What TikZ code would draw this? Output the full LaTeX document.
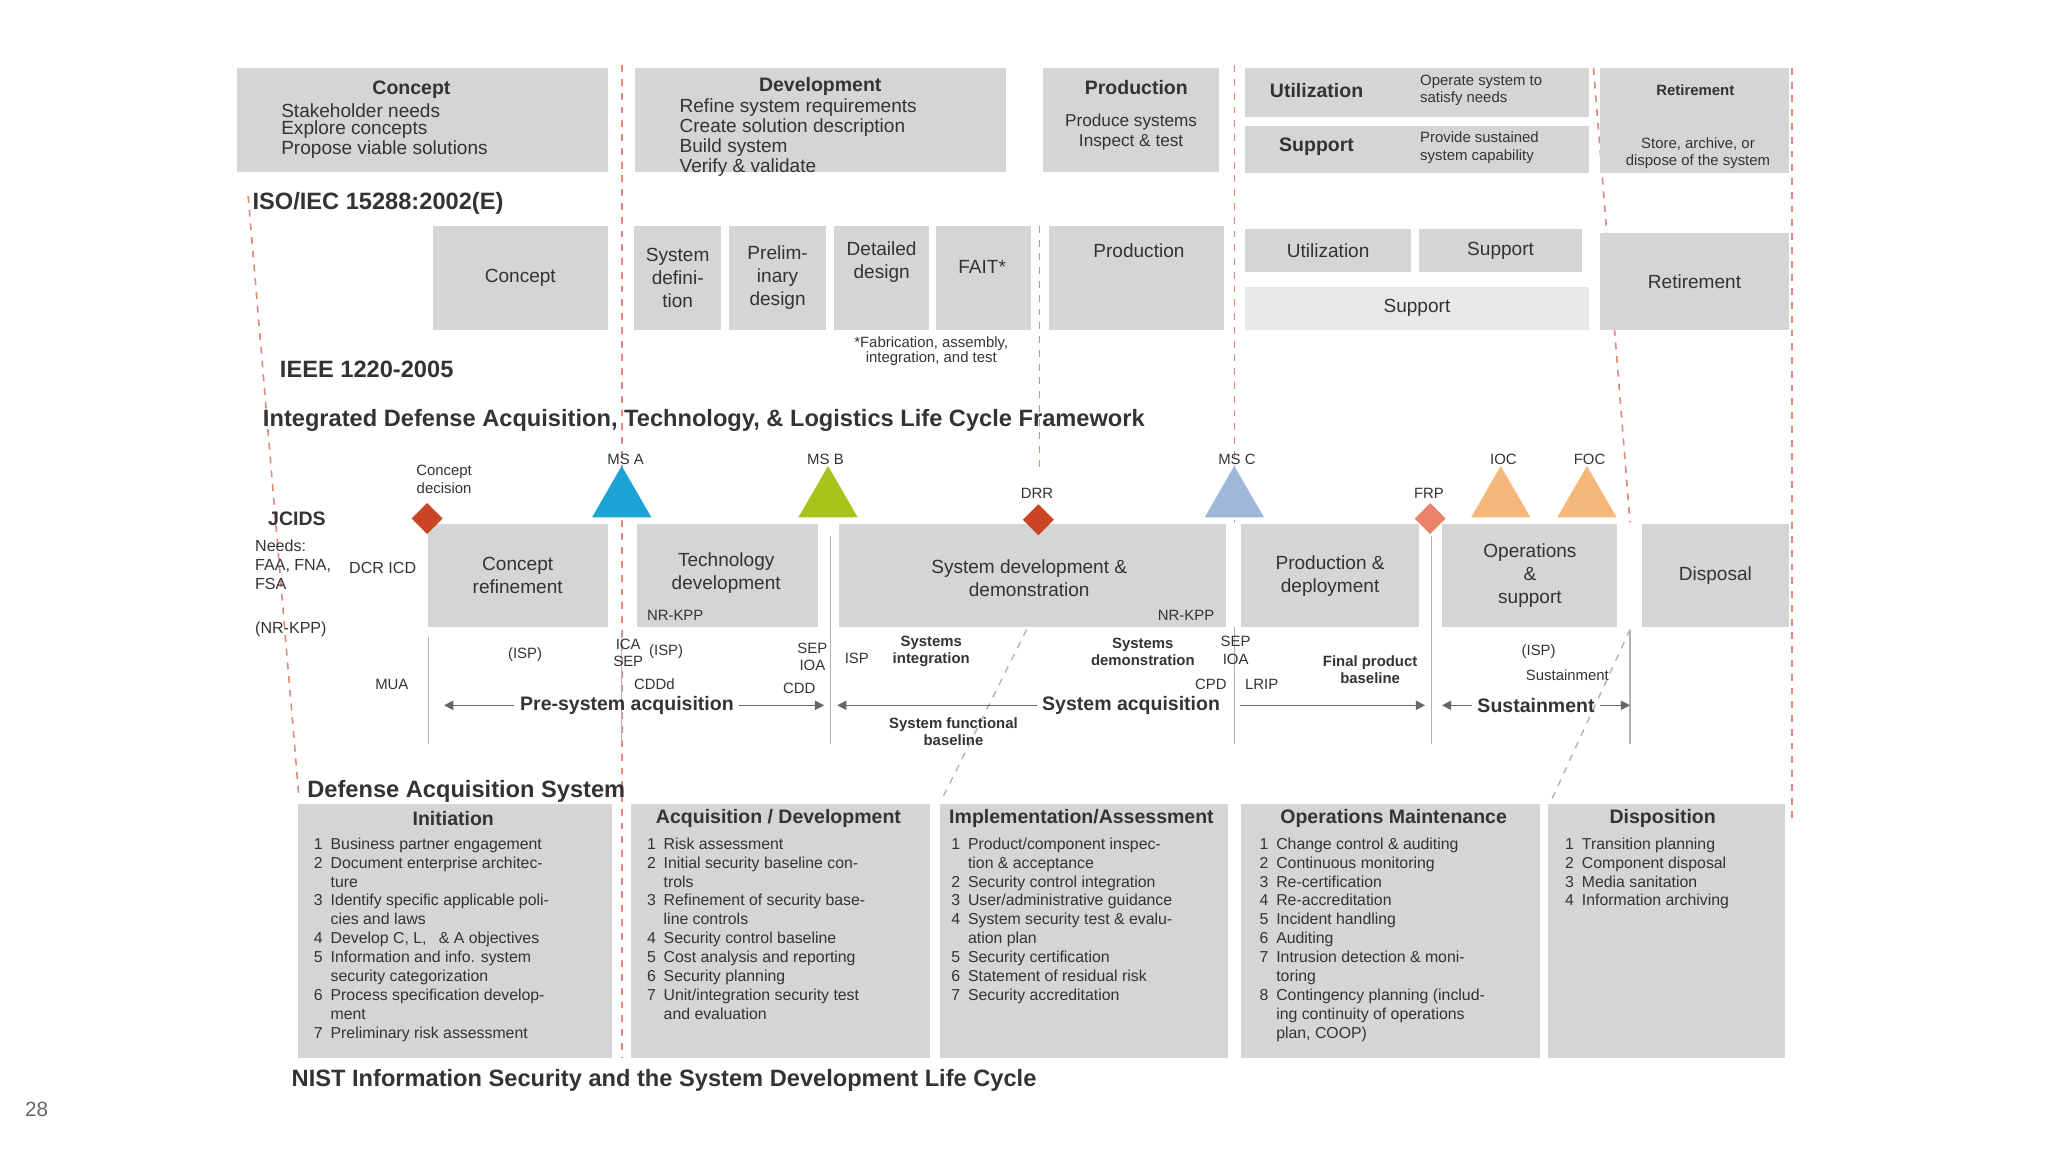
\documentclass[tikz,border=0pt]{standalone}
\usepackage{fontspec}
\setmainfont{Liberation Sans}
\usetikzlibrary{shapes.geometric,arrows.meta}
\definecolor{gb}{HTML}{D5D5D5}
\definecolor{gl}{HTML}{E8E8E8}
\definecolor{tx}{HTML}{333333}
\definecolor{rd}{HTML}{E0897A}
\definecolor{dred}{HTML}{CC4426}
\newcommand\gbox[6][gb]{\node[fill=#1,draw=none,anchor=north west,inner sep=0pt,minimum width={(#5-#3)*0.02cm},minimum height={(#6-#4)*0.02cm}] (#2) at (#3,#4) {};}
\tikzset{
 t/.style={text=tx,font=\fontsize{7.5}{8}\selectfont,inner sep=0pt,align=center},
 tb/.style={t,font=\fontsize{8.5}{10.5}\selectfont\bfseries},
 hd/.style={text=tx,font=\fontsize{10.3}{11}\selectfont\bfseries,inner sep=0pt,anchor=west},
 sm/.style={t,font=\fontsize{6.5}{7.5}\selectfont},
 sb/.style={t,font=\fontsize{6.5}{7.5}\selectfont\bfseries},
 lst/.style={text=tx,font=\fontsize{6.9}{8.25}\selectfont,inner sep=0pt,anchor=north west,align=left},
 rl/.style={draw=rd,dashed,line width=0.7pt},
 gl/.style={draw=gray!60,line width=0.6pt},
 gd/.style={draw=gray!60,dashed,line width=0.6pt},
 ar/.style={draw=gray!80!black,line width=0.7pt,-{Triangle[length=4pt,width=4pt]}},
 tri/.style={regular polygon,regular polygon sides=3,minimum size=1.05cm,inner sep=0pt,draw=none},
 dia/.style={diamond,minimum size=0.48cm,inner sep=0pt,draw=none},
}
\begin{document}
\begin{tikzpicture}[x=0.02cm,y=-0.02cm]
\useasboundingbox (0,0) rectangle (1568,882);
% dashed lines behind
\coordinate (r1a) at (476,50); \coordinate (r1b) at (476,810);
\draw[rl] (r1a) -- (r1b);
\coordinate (r2a) at (796,173); \coordinate (r2b) at (796,360);
\draw[rl] (r2a) -- (r2b);
\coordinate (r3a) at (945,50); \coordinate (r3b) at (945,400);
\draw[rl] (r3a) -- (r3b);
\coordinate (r4a) at (1220,52); \coordinate (r4b) at (1248,400);
\draw[rl] (r4a) -- (r4b);
\coordinate (r5a) at (1372,52); \coordinate (r5b) at (1372,630);
\draw[rl] (r5a) -- (r5b);
\coordinate (r6a) at (190,150); \coordinate (r6b) at (229,612);
\draw[rl] (r6a) -- (r6b);
\coordinate (g1a) at (786,482); \coordinate (g1b) at (721,612);
\draw[gd] (g1a) -- (g1b);
\coordinate (g2a) at (1248,482); \coordinate (g2b) at (1188,612);
\draw[gd] (g2a) -- (g2b);
\foreach \x/\ya/\yb in {328/488/570,636/410/570,945/480/570,1096/410/570,1248/482/570,476/482/570}{
 \draw[gl] (\x,\ya) -- (\x,\yb);}
% top row
\gbox{a1}{181}{52}{465}{131}
\gbox{a2}{486}{52}{770}{131}
\gbox{a3}{798}{52}{933}{131}
\gbox{a4}{953}{52}{1216}{89}
\gbox{a5}{953}{96}{1216}{132}
\gbox{a6}{1225}{52}{1369}{132}
\node[tb] (a1t) at (315,69) {Concept};
\node[t,anchor=north west,align=left,font=\fontsize{8.3}{7.6}\selectfont] (a1l) at (215,79) {Stakeholder needs\\Explore concepts\\Propose viable solutions};
\node[tb] (a2t) at (628,66) {Development};
\node[t,anchor=north west,align=left,font=\fontsize{8.3}{6.4}\selectfont] (a2l) at (520,75) {Refine system requirements\\Create solution description\\Build system\\Verify \& validate};
\node[tb] (a3t) at (870,67) {Production};
\node[t,font=\fontsize{7.5}{9}\selectfont] (a3l) at (866,101) {Produce systems\\Inspect \& test};
\node[tb] (a4t) at (1008,69) {Utilization};
\node[sm,anchor=west,align=left] (a4l) at (1087,69) {Operate system to\\satisfy needs};
\node[tb] (a5t) at (1008,112) {Support};
\node[sm,anchor=west,align=left] (a5l) at (1087,113) {Provide sustained\\system capability};
\node[sb] (a6t) at (1298,69) {Retirement};
\node[sm] (a6l) at (1300,117) {Store, archive, or\\dispose of the system};
\node[hd] (iso) at (193,156) {ISO/IEC 15288:2002(E)};
% second row
\gbox{b1}{331}{173}{465}{252}
\gbox{b2}{485}{173}{552}{252}
\gbox{b3}{558}{173}{632}{252}
\gbox{b4}{638}{173}{711}{252}
\gbox{b5}{716}{173}{789}{252}
\gbox{b6}{803}{173}{937}{252}
\gbox{b7}{953}{175}{1080}{208}
\gbox{b8}{1086}{175}{1211}{208}
\gbox[gl]{b9}{953}{219}{1216}{252}
\gbox{b10}{1225}{178}{1369}{252}
\node[t,font=\fontsize{8.3}{10}\selectfont] at (b1) {Concept};
\node[t,font=\fontsize{8.3}{10}\selectfont] at (b2) {System\\defini-\\tion};
\node[t,font=\fontsize{8.3}{10}\selectfont] at (b3) {Prelim-\\inary\\design};
\node[t,font=\fontsize{8.3}{10}\selectfont] at (675,201) {Detailed\\design};
\node[t,font=\fontsize{8.3}{10}\selectfont] at (752,204) {FAIT*};
\node[t,font=\fontsize{8.3}{10}\selectfont] at (872,192) {Production};
\node[t,font=\fontsize{8.3}{10}\selectfont] at (b7) {Utilization};
\node[t,font=\fontsize{8.3}{10}\selectfont] at (b8) {Support};
\node[t,font=\fontsize{8.3}{10}\selectfont] at (b9) {Support};
\node[t,font=\fontsize{8.3}{10}\selectfont] at (b10) {Retirement};
\node[sm,font=\fontsize{6.5}{6.6}\selectfont] (fn) at (713,269) {*Fabrication, assembly,\\integration, and test};
\node[hd] (ieee) at (214,283) {IEEE 1220-2005};
\node[hd] (idat) at (201,322) {Integrated Defense Acquisition, Technology, \& Logistics Life Cycle Framework};
% JCIDS boxes
\gbox{c1}{327}{401}{465}{480}
\gbox{c2}{487}{401}{626}{480}
\gbox{c3}{642}{401}{938}{480}
\gbox{c4}{950}{401}{1086}{480}
\gbox{c5}{1104}{401}{1238}{480}
\gbox{c6}{1257}{401}{1369}{480}
% milestones
\node[dia,fill=dred] (cd) at (327,397) {};
\node[sm] at (340,367) {Concept\\decision};
\node[tri,fill={rgb,255:red,27;green,163;blue,214}] (msa) at (476,383) {};
\node[sm] at (479,352) {MS A};
\node[tri,fill={rgb,255:red,168;green,196;blue,28}] (msb) at (634,383) {};
\node[sm] at (632,352) {MS B};
\node[dia,fill=dred] (drr) at (795,398) {};
\node[sm] at (794,378) {DRR};
\node[tri,fill={rgb,255:red,157;green,184;blue,216}] (msc) at (945,383) {};
\node[sm] at (947,352) {MS C};
\node[dia,fill={rgb,255:red,232;green,131;blue,106}] (frp) at (1095,397) {};
\node[sm] at (1094,378) {FRP};
\node[tri,fill={rgb,255:red,245;green,184;blue,122}] (ioc) at (1149,383) {};
\node[sm] at (1151,352) {IOC};
\node[tri,fill={rgb,255:red,245;green,184;blue,122}] (foc) at (1215,383) {};
\node[sm] at (1217,352) {FOC};
\node[tb,anchor=west] (jc) at (205,397) {JCIDS};
\node[t,anchor=north west,align=left,font=\fontsize{7}{8.2}\selectfont] (needs) at (195,413) {Needs:\\FAA, FNA,\\FSA};
\node[t,font=\fontsize{7}{8}\selectfont] at (293,435) {DCR ICD};
\node[t,anchor=west,font=\fontsize{7}{8}\selectfont] at (195,482) {(NR-KPP)};
\node[t,font=\fontsize{8.3}{10}\selectfont] at (c1) {Concept\\refinement};
\node[t,font=\fontsize{8.3}{10}\selectfont] at (556,439) {Technology\\development};
\node[sm,anchor=west] at (495,471) {NR-KPP};
\node[t,font=\fontsize{8.3}{10}\selectfont] at (788,443) {System development \&\\demonstration};
\node[sm,anchor=east] at (930,471) {NR-KPP};
\node[t,font=\fontsize{8.3}{10}\selectfont] at (c4) {Production \&\\deployment};
\node[t,font=\fontsize{8.3}{10}\selectfont] at (c5) {Operations\\\&\\support};
\node[t,font=\fontsize{8.3}{10}\selectfont] at (c6) {Disposal};
% small labels
\node[sm] at (402,501) {(ISP)};
\node[sm] at (300,524) {MUA};
\node[sm] at (481,500) {ICA\\SEP};
\node[sm] at (510,499) {(ISP)};
\node[sm] at (501,524) {CDDd};
\node[sm] at (622,503) {SEP\\IOA};
\node[sm] at (612,527) {CDD};
\node[sm] at (656,504) {ISP};
\node[sb] at (713,499) {Systems\\integration};
\node[sb] at (875,499) {Systems\\demonstration};
\node[sm] at (946,498) {SEP\\IOA};
\node[sm] at (927,524) {CPD};
\node[sm] at (966,524) {LRIP};
\node[sb] at (1049,513) {Final product\\baseline};
\node[sm] at (1178,499) {(ISP)};
\node[sm] at (1200,517) {Sustainment};
\node[sb] at (730,560) {System functional\\baseline};
% phase arrows
\node[tb] (pre) at (480,540) {Pre-system acquisition};
\coordinate (pl) at (340,540); \coordinate (pr) at (631,540);
\draw[ar] (pre.west) ++(-4,0) -- (pl);
\draw[ar] (pre.east) ++(4,0) -- (pr);
\node[tb] (sa) at (866,540) {System acquisition};
\coordinate (sl) at (641,540); \coordinate (sr) at (1091,540);
\draw[ar] (sa.west) ++(-4,0) -- (sl);
\draw[ar] (sa.east) ++(15,0) -- (sr);
\node[tb] (su) at (1176,540) {Sustainment};
\coordinate (ul) at (1104,540); \coordinate (ur) at (1248,540);
\draw[ar] (su.west) ++(-4,0) -- (ul);
\draw[ar] (su.east) ++(4,0) -- (ur);
% defense acquisition / NIST
\node[hd] (das) at (235,606) {Defense Acquisition System};
\gbox{d1}{228}{615}{468}{810}
\gbox{d2}{483}{615}{712}{810}
\gbox{d3}{719}{615}{940}{810}
\gbox{d4}{950}{615}{1179}{810}
\gbox{d5}{1185}{615}{1366}{810}
\node[tb] at (347,627) {Initiation};
\node[tb] at (596,627) {Acquisition / Development};
\node[tb] at (828,627) {Implementation/Assessment};
\node[tb] at (1067,627) {Operations Maintenance};
\node[tb] at (1273,627) {Disposition};
\node[lst] at (240,641) {1\enspace Business partner engagement\\2\enspace Document enterprise architec-\\\phantom{2\enspace }ture\\3\enspace Identify specific applicable poli-\\\phantom{3\enspace }cies and laws\\4\enspace Develop C, L, \enspace\& A objectives\\5\enspace Information and info. system\\\phantom{5\enspace }security categorization\\6\enspace Process specification develop-\\\phantom{6\enspace }ment\\7\enspace Preliminary risk assessment};
\node[lst] at (495,641) {1\enspace Risk assessment\\2\enspace Initial security baseline con-\\\phantom{2\enspace }trols\\3\enspace Refinement of security base-\\\phantom{3\enspace }line controls\\4\enspace Security control baseline\\5\enspace Cost analysis and reporting\\6\enspace Security planning\\7\enspace Unit/integration security test\\\phantom{7\enspace }and evaluation};
\node[lst] at (728,641) {1\enspace Product/component inspec-\\\phantom{1\enspace }tion \& acceptance\\2\enspace Security control integration\\3\enspace User/administrative guidance\\4\enspace System security test \& evalu-\\\phantom{4\enspace }ation plan\\5\enspace Security certification\\6\enspace Statement of residual risk\\7\enspace Security accreditation};
\node[lst] at (964,641) {1\enspace Change control \& auditing\\2\enspace Continuous monitoring\\3\enspace Re-certification\\4\enspace Re-accreditation\\5\enspace Incident handling\\6\enspace Auditing\\7\enspace Intrusion detection \& moni-\\\phantom{7\enspace }toring\\8\enspace Contingency planning (includ-\\\phantom{8\enspace }ing continuity of operations\\\phantom{8\enspace }plan, COOP)};
\node[lst] at (1198,641) {1\enspace Transition planning\\2\enspace Component disposal\\3\enspace Media sanitation\\4\enspace Information archiving};
\node[hd] (nist) at (223,827) {NIST Information Security and the System Development Life Cycle};
\node[t,font=\fontsize{9}{10}\selectfont,text=gray!80!black] (pg) at (28,849) {28};
\end{tikzpicture}
\end{document}
